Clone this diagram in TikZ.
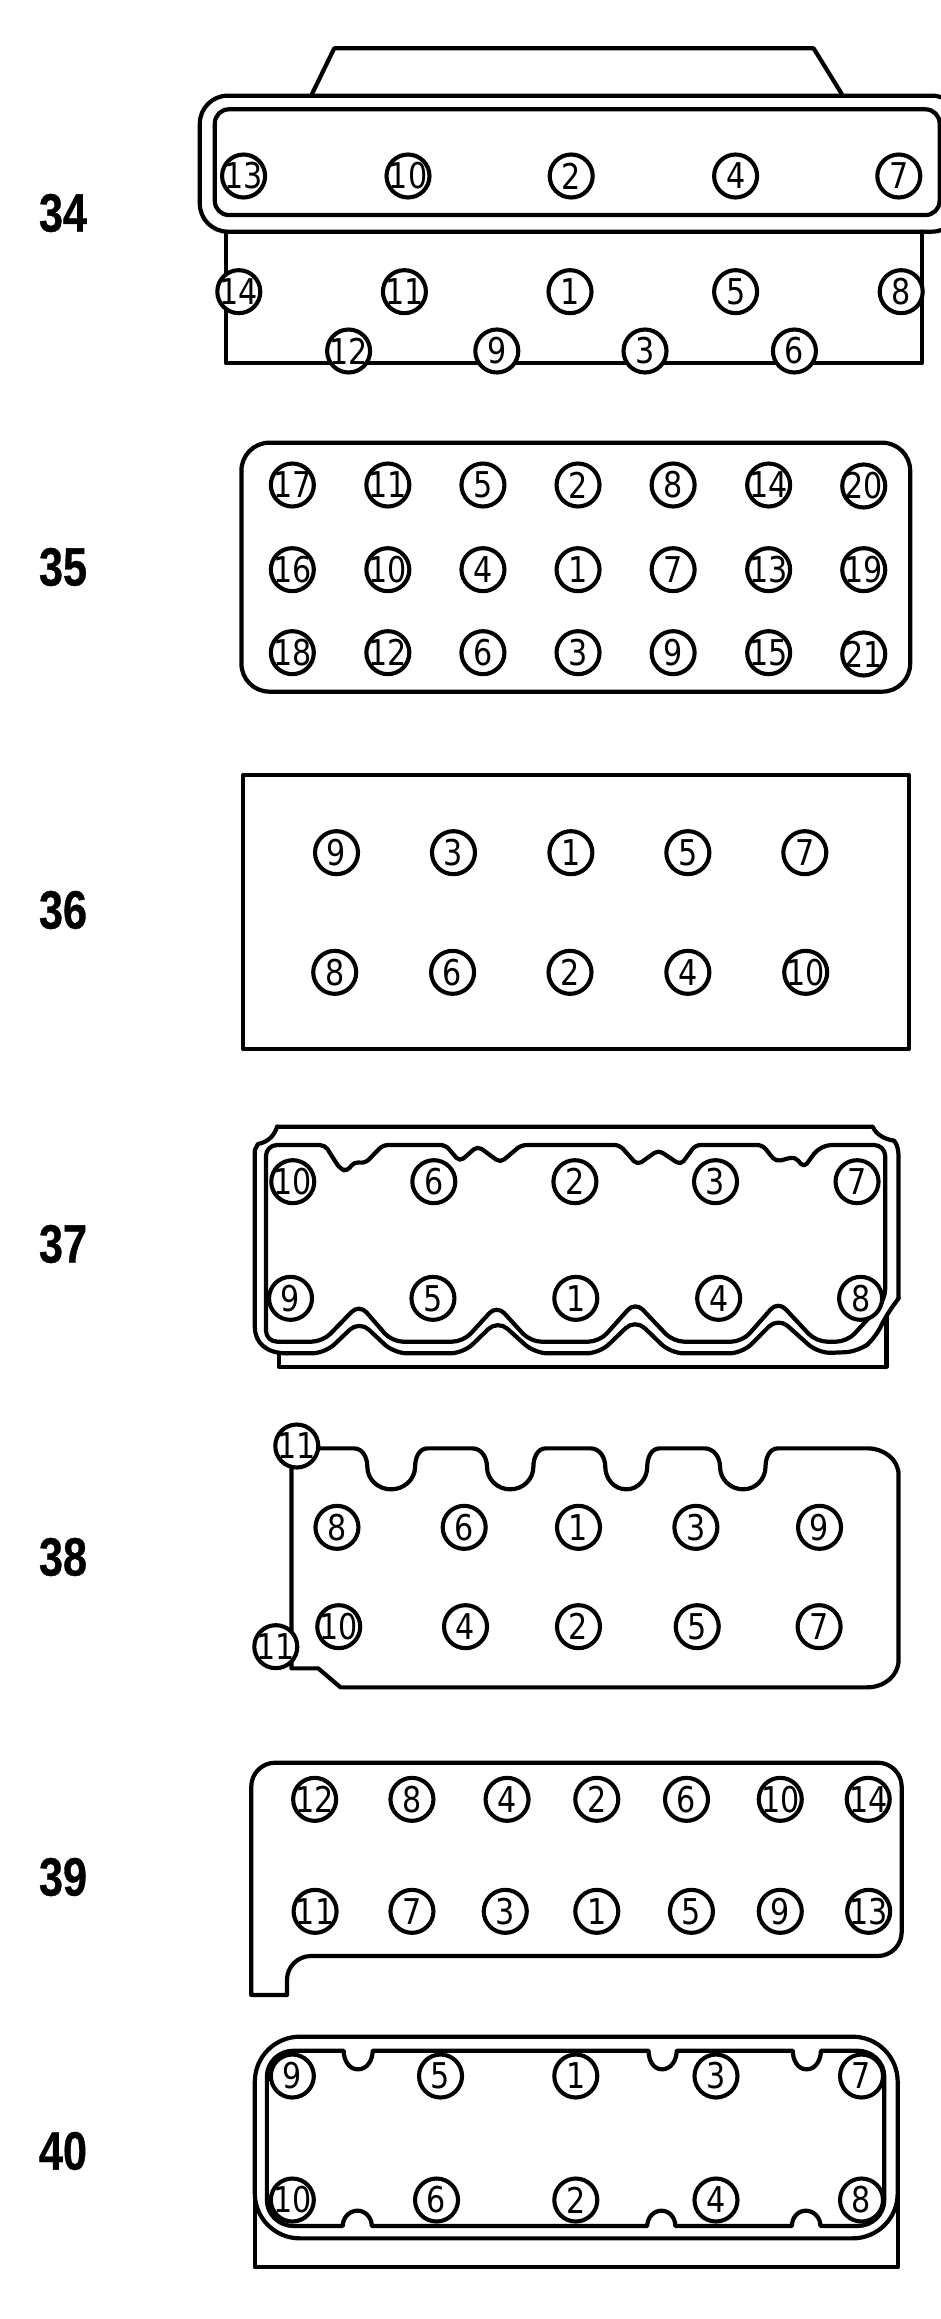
\documentclass[tikz,border=0pt]{standalone}
\usepackage{fontspec}
\newfontfamily\boltfamily[FakeStretch=0.85]{DejaVu Sans}
\newfontfamily\numfamily[FakeStretch=0.80,BoldFeatures={FakeBold=0.6}]{Liberation Sans}
\newcommand\dig[1]{\makebox[0pt]{#1}}
\tikzset{
  part/.style={draw=black,line width=4.2pt,line join=round,line cap=round,fill=none},
  bolt/.style={circle,draw=black,fill=white,line width=4.1pt,minimum size=43pt,inner sep=0pt,outer sep=0pt,
    font=\boltfamily\fontsize{35.5}{35.5}\selectfont},
  figlabel/.style={inner sep=0pt,font=\numfamily\bfseries\fontsize{54}{54}\selectfont},
  zoomA/.style={x=0.6pt,y=-0.33333pt},
  zoomB/.style={x=0.44643pt,y=-0.33333pt}
}
\begin{document}
\begin{tikzpicture}[x=1pt,y=-1pt]
\useasboundingbox (0,0) rectangle (941,2319);
\clip (0,0) rectangle (941,2319);
\foreach \n/\yy in {34/213,35/567,36/910,37/1244,38/1557,39/1877,40/2151}
  \node[figlabel] (fig\n) at (63,\yy) {\n};
% 34
\begin{scope}[zoomA,shift={(0pt,-20pt)}]
  \draw[part] (520,222) -- (557,85) -- (1356,85) -- (1403,222);
  \draw[part] (377,635) -- (377,1030) -- (1536,1030) -- (1536,635);
  \draw[part,rounded corners=28pt] (333,227) rectangle (1600,635);
  \draw[part,rounded corners=14pt] (358,268) rectangle (1566,585);
  \foreach \xx/\t in {406/13,680/10,952/2,1226/4,1498/7} \node[bolt] (a\t) at (\xx,468) {\dig{\t}};
  \foreach \xx/\t in {398/14,674/11,950/1,1226/5,1502/8} \node[bolt] (a\t) at (\xx,815) {\dig{\t}};
  \foreach \xx/\t in {581/12,828/9,1075/3,1324/6} \node[bolt] (a\t) at (\xx,993) {\dig{\t}};
\end{scope}
% 35
\begin{scope}[zoomB,shift={(220pt,-420pt)}]
  \draw[part,rounded corners=28pt] (48,68) rectangle (1546,815);
  \foreach \xx/\t in {162/17,376/11,589/5,802/2,1015/8,1229/14} \node[bolt] (b\t) at (\xx,195) {\dig{\t}};
  \node[bolt] (b20) at (1442,198) {\dig{20}};
  \foreach \xx/\t in {162/16,376/10,589/4,802/1,1015/7,1229/13,1442/19} \node[bolt] (b\t) at (\xx,449) {\dig{\t}};
  \foreach \xx/\t in {162/18,376/12,589/6,802/3,1015/9,1229/15} \node[bolt] (b\t) at (\xx,698) {\dig{\t}};
  \node[bolt] (b21) at (1442,702) {\dig{21}};
\end{scope}
% 36
\begin{scope}[zoomB,shift={(220pt,-760pt)}]
  \draw[part] (52,45) rectangle (1543,867);
  \foreach \xx/\t in {261/9,523/3,786/1,1048/5,1310/7} \node[bolt] (c\t) at (\xx,278) {\dig{\t}};
  \foreach \xx/\t in {257/8,521/6,784/2,1048/4,1312/10} \node[bolt] (c\t) at (\xx,637) {\dig{\t}};
\end{scope}
% 37
\begin{scope}[zoomB,shift={(220pt,-1100pt)}]
  \draw[part] (132,760) -- (132,800) -- (1493,800) -- (1493,650);
  % outer gasket edge
  \draw[part] (128,80) -- (1462,80)
     .. controls (1470,105) and (1490,118) .. (1510,122)
     .. controls (1518,135) and (1520,150) .. (1520,180) -- (1520,595);
  \draw[part,rounded corners=13pt] (1520,595) -- (1490,650) -- (1468,715) -- (1430,755) -- (1340,760)
     -- (1250,652) -- (1170,760) -- (1010,760) -- (930,657) -- (850,760) -- (705,760)
     -- (622,660) -- (545,760) -- (390,760) -- (312,662) -- (235,760) -- (150,760);
  \draw[part] (150,760) .. controls (105,760) and (78,730) .. (78,680) -- (78,150)
     -- (85,132) .. controls (110,125) and (122,105) .. (128,80);
  % inner gasket edge
  \draw[part,rounded corners=11pt] (103,400) -- (103,725) -- (230,725) -- (312,612) -- (385,725) -- (545,725)
     -- (620,615) -- (695,725) -- (850,725) -- (930,605) -- (1015,725) -- (1170,725) -- (1250,603)
     -- (1335,725) -- (1405,725) -- (1490,600) -- (1490,135) -- (1345,135)
     [rounded corners=5pt] -- (1308,203) -- (1288,170) -- (1245,185) -- (1215,135) -- (1065,135)
     -- (1032,195) -- (982,150) -- (935,195) -- (895,135) -- (675,135) -- (628,188) -- (577,138)
     -- (537,185) -- (505,135) -- (365,135) -- (325,190) -- (300,185) -- (285,215) -- (268,205) -- (235,135)
     [rounded corners=11pt] -- (103,135) -- cycle;
  \foreach \xx/\t in {163/10,479/6,795/2,1110/3,1427/7} \node[bolt] (d\t) at (\xx,245) {\dig{\t}};
  \foreach \xx/\t in {158/9,477/5,797/1,1117/4,1435/8} \node[bolt] (d\t) at (\xx,595) {\dig{\t}};
\end{scope}
% 38
\begin{scope}[zoomB,shift={(220pt,-1410pt)}]
  \draw[part] (160,170) -- (160,775) -- (220,775) -- (270,832) -- (1450,832)
    to[out=0,in=-90] (1520,750) -- (1520,195) to[out=90,in=0] (1450,115) -- (1250,115)
    to[out=180,in=90] (1222,170) to[out=-90,in=0] (1172,238) to[out=180,in=-90] (1120,170) to[out=90,in=0] (1085,115)
    -- (985,115) to[out=180,in=90] (957,170) to[out=-90,in=0] (910,238) to[out=180,in=-90] (863,170) to[out=90,in=0] (830,115)
    -- (730,115) to[out=180,in=90] (702,170) to[out=-90,in=0] (650,238) to[out=180,in=-90] (598,170) to[out=90,in=0] (565,115)
    -- (465,115) to[out=180,in=90] (437,170) to[out=-90,in=0] (383,238) to[out=180,in=-90] (330,170) to[out=90,in=0] (300,115)
    -- (220,115);
  \foreach \xx/\t in {262/8,547/6,803/1,1066/3,1343/9} \node[bolt] (e\t) at (\xx,352) {\dig{\t}};
  \foreach \xx/\t in {266/10,550/4,803/2,1069/5,1342/7} \node[bolt] (e\t) at (\xx,650) {\dig{\t}};
  \node[bolt] (e11a) at (172,108) {\dig{11}};
  \node[bolt] (e11b) at (125,710) {\dig{11}};
\end{scope}
% 39
\begin{scope}[zoomB,shift={(220pt,-1740pt)}]
  \draw[part,rounded corners=24pt] (70,400) -- (70,68) -- (1527,68) -- (1527,648) -- (150,648) [sharp corners] -- (150,765) -- (70,765) -- cycle;
  \foreach \xx/\t in {212/12,430/8,643/4,844/2,1045/6,1255/10,1452/14} \node[bolt] (f\t) at (\xx,178) {\dig{\t}};
  \foreach \xx/\t in {213/11,430/7,639/3,844/1,1056/5,1255/9,1453/13} \node[bolt] (f\t) at (\xx,514) {\dig{\t}};
\end{scope}
% 40
\begin{scope}[zoomB,shift={(220pt,-2020pt)}]
  \draw[part] (78,520) -- (78,742) -- (1518,742) -- (1518,440);
  \draw[part,rounded corners=45pt] (78,50) rectangle (1518,655);
  \draw[part] (105,170) to[out=90,in=180] (165,92) -- (277,92)
     to[out=-90,in=180] (309,148) to[out=0,in=-90] (342,92) -- (960,92) to[out=-90,in=180] (990,148) to[out=0,in=-90] (1023,92)
     -- (1283,92) to[out=-90,in=180] (1314,148) to[out=0,in=-90] (1346,92) -- (1428,92) to[out=0,in=90] (1488,170) -- (1488,540)
     to[out=-90,in=0] (1428,618) -- (1345,618)
     to[out=90,in=0] (1312,572) to[out=180,in=90] (1281,618) -- (1020,618) to[out=90,in=0] (989,572) to[out=180,in=90] (957,618)
     -- (340,618) to[out=90,in=0] (308,572) to[out=180,in=90] (275,618) -- (165,618) to[out=180,in=-90] (105,540) -- cycle;
  \foreach \xx/\t in {162/9,494/5,797/1,1111/3,1437/7} \node[bolt] (g\t) at (\xx,168) {\dig{\t}};
  \foreach \xx/\t in {162/10,485/6,797/2,1111/4,1437/8} \node[bolt] (g\t) at (\xx,540) {\dig{\t}};
\end{scope}
\end{tikzpicture}
\end{document}
